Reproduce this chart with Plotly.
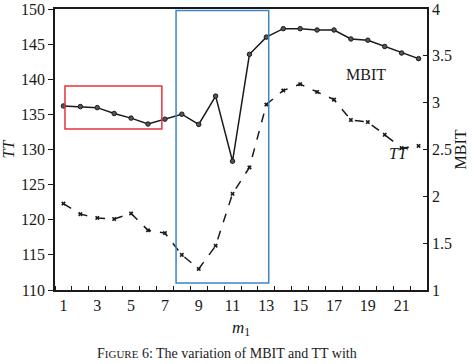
import plotly.graph_objects as go

m1 = list(range(1, 23))
mbit = [2.965, 2.958, 2.947, 2.884, 2.835, 2.772, 2.824, 2.877, 2.768, 3.07, 2.375,
        3.516, 3.70, 3.79, 3.79, 3.776, 3.776, 3.68, 3.667, 3.60, 3.53, 3.47]
tt = [122.3, 120.8, 120.25, 120.1, 120.9, 118.5, 118.1, 115.0, 113.0, 116.3, 123.7,
      127.45, 136.4, 138.4, 139.3, 138.2, 137.1, 134.2, 133.9, 132.1, 130.2, 130.5]
x_tick_labels = [1, 3, 5, 7, 9, 11, 13, 15, 17, 19, 21]
tt_ticks = [110, 115, 120, 125, 130, 135, 140, 145, 150]
mbit_ticks = [1, 1.5, 2, 2.5, 3, 3.5, 4]

FONT = "Liberation Serif"
INK = "#1a1a1a"
L, R, T, B, W, H = 55, 47, 9, 74, 474, 364
PW, PH = W - L - R, H - T - B


def px_to_paper(px, py):
    return (px - L) / PW, (H - B - py) / PH


fig = go.Figure()
fig.add_trace(go.Scatter(
    x=m1, y=tt, yaxis="y", mode="lines+markers", name="TT",
    line=dict(color=INK, width=1.5, dash="dash"),
    marker=dict(symbol="x", size=4, color=INK),
))
fig.add_trace(go.Scatter(
    x=m1, y=mbit, yaxis="y2", mode="lines+markers", name="MBIT",
    line=dict(color=INK, width=1.5),
    marker=dict(symbol="circle", size=4.5, color="#555", line=dict(color=INK, width=1)),
))

# highlight boxes
fig.add_shape(type="rect", xref="x", yref="y", x0=1.09, x1=6.82, y0=132.92, y1=139.05,
              line=dict(color="#e8333a", width=1.5))
fig.add_shape(type="rect", xref="x", yref="y", x0=7.66, x1=13.14, y0=111.0, y1=149.8,
              line=dict(color="#3d85c6", width=1.5))

ax, ay = px_to_paper(388, 64)
fig.add_annotation(xref="paper", yref="paper", x=ax, y=ay, text="MBIT", showarrow=False,
                   font=dict(family=FONT, size=16, color=INK))
ax, ay = px_to_paper(410, 153)
fig.add_annotation(xref="paper", yref="paper", x=ax, y=ay, text="<i>TT</i>", showarrow=False,
                   font=dict(family=FONT, size=16, color=INK))
ax, ay = px_to_paper(227, 363)
fig.add_annotation(xref="paper", yref="paper", x=ax, y=ay, yanchor="bottom",
                   text="F<span style='font-size:11px'>IGURE</span> 6: The variation of MBIT and TT with",
                   showarrow=False, font=dict(family=FONT, size=14, color=INK))

fig.update_layout(
    width=W, height=H,
    margin=dict(l=L, r=R, t=T, b=B),
    paper_bgcolor="white", plot_bgcolor="white",
    showlegend=False,
    font=dict(family=FONT, size=16, color=INK),
    xaxis=dict(
        range=[0.5, 22.5], tickvals=x_tick_labels, ticktext=[str(v) for v in x_tick_labels],
        ticks="", showgrid=False, zeroline=False, automargin=False,
        showline=True, linecolor=INK, linewidth=1.5, mirror=True,
        minor=dict(tick0=0.5, dtick=1, ticks="inside", ticklen=4, tickcolor=INK, showgrid=False),
        title=dict(text="<i>m</i><sub>1</sub>", standoff=8, font=dict(family=FONT, size=17)),
        tickfont=dict(family=FONT, size=16),
    ),
    yaxis=dict(
        range=[110, 150], tickvals=tt_ticks, ticks="outside", ticklen=5, tickcolor=INK,
        showgrid=False, zeroline=False, showline=True, linecolor=INK, linewidth=1.5,
        automargin=False,
        title=dict(text="<i>TT</i>", standoff=4, font=dict(family=FONT, size=16)),
        tickfont=dict(family=FONT, size=16),
    ),
    yaxis2=dict(
        range=[1, 4], tickvals=mbit_ticks, ticktext=[f"{v:g}" for v in mbit_ticks],
        overlaying="y", side="right", ticks="inside", ticklen=4, tickcolor=INK,
        showgrid=False, zeroline=False, showline=True, linecolor=INK, linewidth=1.5,
        automargin=False,
        title=dict(text="MBIT", standoff=0, font=dict(family=FONT, size=16)),
        tickfont=dict(family=FONT, size=16),
    ),
)

fig.write_html("out.html", config={"displayModeBar": False},
               post_script="document.body.style.margin='0';document.body.style.overflow='hidden';")
